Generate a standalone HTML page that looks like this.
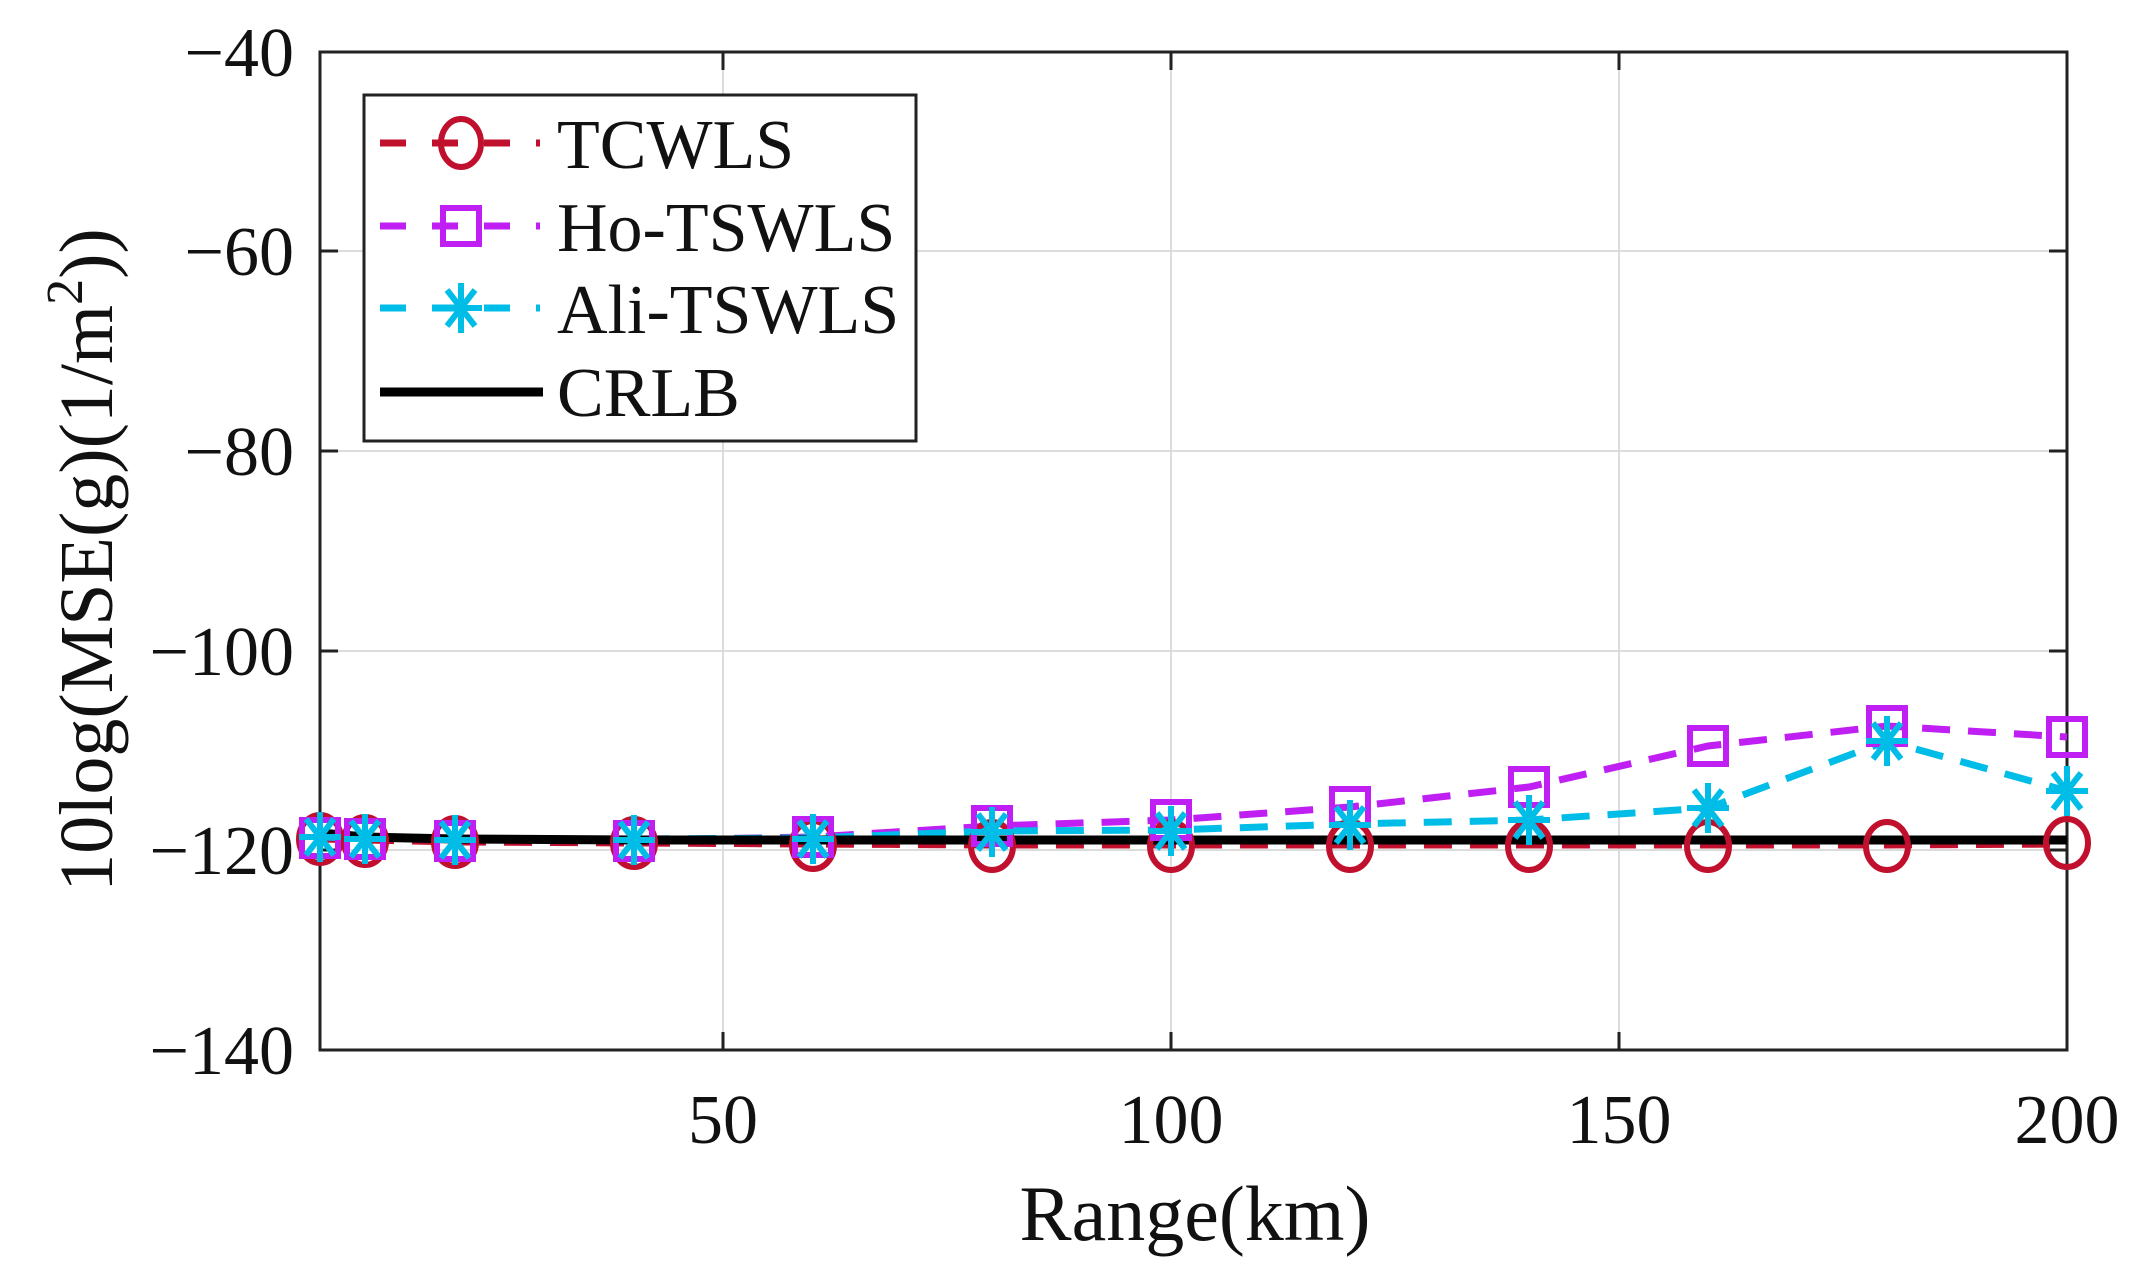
<!DOCTYPE html>
<html><head><meta charset="utf-8"><style>
html,body{margin:0;padding:0;background:#fff}
svg{display:block}
text{font-family:"Liberation Serif",serif;fill:#111}
</style></head><body>
<svg width="2139" height="1279" viewBox="0 0 2139 1279" xmlns="http://www.w3.org/2000/svg">
<g stroke="#dcdcdc" stroke-width="2">
<line x1="723" y1="52" x2="723" y2="1050"/>
<line x1="1171" y1="52" x2="1171" y2="1050"/>
<line x1="1619" y1="52" x2="1619" y2="1050"/>
<line x1="320" y1="251" x2="2067" y2="251"/>
<line x1="320" y1="451" x2="2067" y2="451"/>
<line x1="320" y1="651" x2="2067" y2="651"/>
<line x1="320" y1="850" x2="2067" y2="850"/>
</g>
<rect x="320" y="52" width="1747" height="998" fill="none" stroke="#222" stroke-width="3"/>
<g stroke="#222" stroke-width="3">
<line x1="723" y1="1050" x2="723" y2="1032"/><line x1="1171" y1="1050" x2="1171" y2="1032"/><line x1="1619" y1="1050" x2="1619" y2="1032"/>
<line x1="723" y1="52" x2="723" y2="70"/><line x1="1171" y1="52" x2="1171" y2="70"/><line x1="1619" y1="52" x2="1619" y2="70"/>
<line x1="320" y1="251" x2="338" y2="251"/><line x1="320" y1="451" x2="338" y2="451"/><line x1="320" y1="651" x2="338" y2="651"/><line x1="320" y1="850" x2="338" y2="850"/>
<line x1="2067" y1="251" x2="2049" y2="251"/><line x1="2067" y1="451" x2="2049" y2="451"/><line x1="2067" y1="651" x2="2049" y2="651"/><line x1="2067" y1="850" x2="2049" y2="850"/>
</g>
<g font-size="70" text-anchor="end">
<text x="294" y="76">−40</text>
<text x="294" y="275">−60</text>
<text x="294" y="475">−80</text>
<text x="294" y="675">−100</text>
<text x="294" y="874">−120</text>
<text x="294" y="1074">−140</text>
</g>
<g font-size="70" text-anchor="middle">
<text x="723" y="1143">50</text>
<text x="1171" y="1143">100</text>
<text x="1619" y="1143">150</text>
<text x="2067" y="1143">200</text>
</g>
<text x="1195" y="1240" font-size="78" text-anchor="middle">Range(km)</text>
<text transform="translate(112,560) rotate(-90)" font-size="76" text-anchor="middle">10log(MSE(g)(1/m<tspan dy="-30" font-size="52">2</tspan><tspan dy="30">))</tspan></text>

<g fill="none" stroke-width="7" stroke-dasharray="28,18">
<polyline stroke="#c0102e" points="320,839 365,840 455,842 634,843 813,844 992,845 1171,845 1350,845 1529,845 1708,845 1887,845 2067,844"/>
<polyline stroke="#bf1ff2" points="320,837 365,838 455,840 634,840 813,837 992,826 1171,820 1350,807 1529,787 1708,746 1887,726 2067,737"/>
<polyline stroke="#00bde8" points="320,837 365,838 455,839 634,839 813,838 992,831 1171,830 1350,824 1529,820 1708,808 1887,741 2067,791"/>
</g>
<polyline fill="none" stroke="#000" stroke-width="9" points="320,833 365,837 455,839 634,840 813,840 992,840 1171,840 1350,840 1529,840 1708,840 1887,840 2067,840"/>

<g fill="none" stroke="#c0102e" stroke-width="6">
<ellipse cx="320" cy="839" rx="21" ry="24"/><ellipse cx="365" cy="841" rx="21" ry="24"/><ellipse cx="455" cy="842" rx="21" ry="24"/><ellipse cx="634" cy="843" rx="21" ry="24"/><ellipse cx="813" cy="845" rx="21" ry="24"/><ellipse cx="992" cy="846" rx="21" ry="24"/><ellipse cx="1171" cy="846" rx="21" ry="24"/><ellipse cx="1350" cy="846" rx="21" ry="24"/><ellipse cx="1529" cy="846" rx="21" ry="24"/><ellipse cx="1708" cy="846" rx="21" ry="24"/><ellipse cx="1887" cy="846" rx="21" ry="24"/><ellipse cx="2067" cy="843" rx="21" ry="24"/>
</g>
<g fill="none" stroke="#bf1ff2" stroke-width="6">
<rect x="302" y="820" width="36" height="36"/><rect x="347" y="821" width="36" height="36"/><rect x="437" y="823" width="36" height="36"/><rect x="616" y="823" width="36" height="36"/><rect x="795" y="819" width="36" height="36"/><rect x="974" y="808" width="36" height="36"/><rect x="1153" y="802" width="36" height="36"/><rect x="1332" y="789" width="36" height="36"/><rect x="1511" y="769" width="36" height="36"/><rect x="1690" y="728" width="36" height="36"/><rect x="1869" y="708" width="36" height="36"/><rect x="2049" y="719" width="36" height="36"/>
</g>
<defs><g id="ast" stroke="#00bde8" stroke-width="6"><line x1="0" y1="-25" x2="0" y2="25"/><line x1="-21" y1="0" x2="21" y2="0"/><line x1="-14" y1="-18" x2="14" y2="18"/><line x1="-14" y1="18" x2="14" y2="-18"/></g></defs>
<use href="#ast" x="320" y="837"/><use href="#ast" x="365" y="839"/><use href="#ast" x="455" y="840"/><use href="#ast" x="634" y="840"/><use href="#ast" x="813" y="839"/><use href="#ast" x="992" y="832"/><use href="#ast" x="1171" y="831"/><use href="#ast" x="1350" y="825"/><use href="#ast" x="1529" y="820"/><use href="#ast" x="1708" y="808"/><use href="#ast" x="1887" y="741"/><use href="#ast" x="2067" y="791"/>

<rect x="364" y="95" width="552" height="346" fill="#fff" stroke="#222" stroke-width="3"/>
<g stroke-width="7">
<line x1="380" y1="143" x2="540" y2="143" stroke="#c0102e" stroke-dasharray="26,26"/>
<line x1="380" y1="226" x2="540" y2="226" stroke="#bf1ff2" stroke-dasharray="26,26"/>
<line x1="380" y1="308" x2="540" y2="308" stroke="#00bde8" stroke-dasharray="26,26"/>
<line x1="380" y1="392" x2="543" y2="392" stroke="#000" stroke-width="9"/>
</g>
<ellipse cx="461" cy="143" rx="20" ry="24" fill="none" stroke="#c0102e" stroke-width="6"/>
<rect x="443" y="208" width="36" height="36" fill="none" stroke="#bf1ff2" stroke-width="6"/>
<use href="#ast" x="461" y="308"/>
<g font-size="70">
<text x="557" y="168">TCWLS</text>
<text x="557" y="251">Ho-TSWLS</text>
<text x="557" y="333">Ali-TSWLS</text>
<text x="557" y="416">CRLB</text>
</g>
</svg>
</body></html>
